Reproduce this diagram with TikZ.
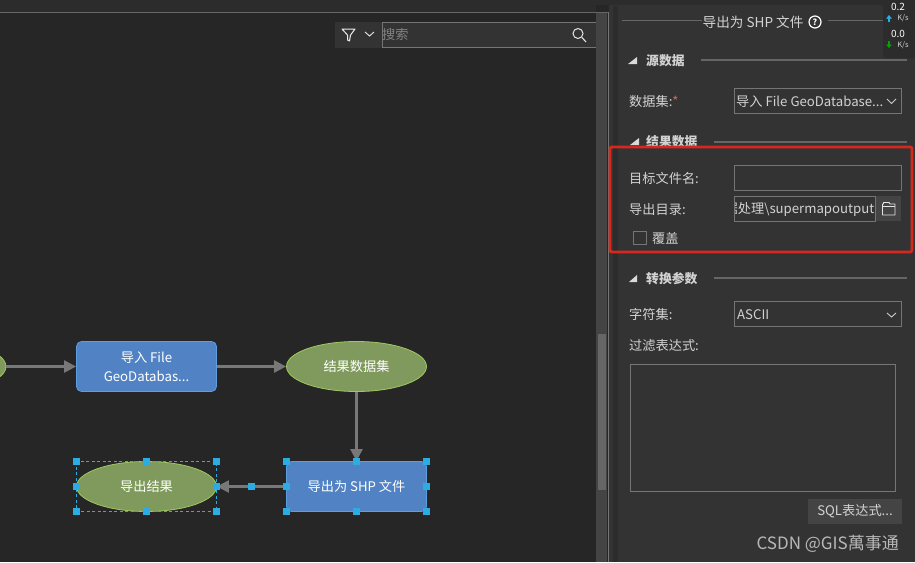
\documentclass[tikz,border=0pt]{standalone}
\usepackage{fontspec}
\setmainfont{Noto Sans CJK SC}
\usetikzlibrary{arrows.meta,shapes.geometric,calc}
\definecolor{canvas}{HTML}{262626}
\definecolor{panel}{HTML}{333333}
\definecolor{strip}{HTML}{2C2C2C}
\definecolor{field}{HTML}{757575}
\definecolor{txt}{HTML}{D2D2D2}
\definecolor{rule}{HTML}{666666}
\definecolor{bluebox}{HTML}{5082C4}
\definecolor{blueedge}{HTML}{5B9FE0}
\definecolor{greenell}{HTML}{7F9A5C}
\definecolor{greenedge}{HTML}{A0C860}
\definecolor{conn}{HTML}{787878}
\definecolor{handle}{HTML}{2BACE2}
\definecolor{redbox}{HTML}{D8281E}
\definecolor{btn}{HTML}{444444}
\newcommand{\lowered}[1]{\raisebox{-0.9pt}{#1}}
\tikzset{
  every node/.style={font=\fontsize{13.2}{15}\selectfont,text=txt,inner sep=0pt},
  taskbox/.style={draw=blueedge,fill=bluebox,rounded corners=5pt,minimum width=140pt,minimum height=50pt,line width=.8pt,text=white,align=center},
  dataell/.style={ellipse,draw=greenedge,fill=greenell,minimum width=140pt,minimum height=50pt,line width=.8pt,text=white},
  flow/.style={draw=conn,line width=2.3pt,-{Triangle[length=12pt,width=12pt,fill=conn]}},
  grip/.style={fill=handle,minimum size=7pt,draw=none},
  fieldbox/.style={draw=field,line width=.8pt,minimum height=25pt,anchor=west},
  plabel/.style={anchor=west,text=txt,yshift=-0.9pt},
  seclabel/.style={anchor=west,text=txt,yshift=-0.6pt,font=\fontsize{12.8}{15}\selectfont\bfseries},
  secrule/.style={draw=rule,line width=1.6pt},
  tri/.style={fill=white!85!black,draw=none},
}
\begin{document}
\begin{tikzpicture}[x=1pt,y=-1pt]
\useasboundingbox (0,0) rectangle (915,562);
\clip (0,0) rectangle (915,562);
% backgrounds
\fill[canvas] (0,0) rectangle (915,562);
\fill[strip] (0,0) rectangle (596,12);
\fill[panel] (609,0) rectangle (915,562);
\fill[strip] (613,6) rectangle (618,562);
\fill[strip] (0,0) rectangle (915,5);
\draw[rule,line width=1pt] (0,12) -- (608,12);
\fill[btn] (596,13) rectangle (607,562);
\fill[rule] (598,334) rectangle (606,490);
\draw[field,line width=1pt] (608,12) -- (608,562);
% search bar
\fill[panel] (335,22) rectangle (596,48);
\draw[field,line width=.8pt] (596,22.5) -- (382.5,22.5) -- (382.5,47.5) -- (596,47.5);
\node[plabel,text=field!90!white] (searchtxt) at (382,34) {搜索};
\draw[white!92!black,line width=1pt,line join=round] (342,29) -- (355,29) -- (350.5,35) -- (349.5,41) -- (347.5,40) -- (347.5,35) -- cycle;
\draw[white!85!black,line width=1pt] (365,32) -- (369.5,36) -- (374,32);
\draw[white!90!black,line width=1pt] (578,33.5) circle (5pt);
\draw[white!90!black,line width=1.1pt] (582,37.5) -- (586,42);
% diagram
\node[dataell] (srcell) at (-64,366.5) {};
\node[taskbox] (imp) at (146.5,366.5) {\lowered{导入 File}\\[4pt]\lowered{GeoDatabas...}};
\node[dataell] (res) at (356.5,366.5) {\lowered{结果数据集}};
\node[taskbox] (exp) at (356.5,486.5) {\lowered{导出为 SHP 文件}};
\node[dataell] (out) at (146.5,486.5) {\lowered{导出结果}};
\draw[flow] (srcell) -- (imp);
\draw[flow] (imp) -- (res);
\draw[flow] (res) -- (exp);
\draw[flow] (exp) -- (out);
% selection
\draw[handle,line width=.8pt,dash pattern=on 3pt off 2.5pt] (76.5,461) rectangle (216.5,511.5);
\foreach \gx/\gy [count=\gi] in {76.5/461,146.5/461,216.5/461,76.5/486.5,216.5/486.5,76.5/511,146.5/511,216.5/511,
  286.5/461,356.5/461,426.5/461,286.5/486.5,426.5/486.5,286.5/511,356.5/511,426.5/511,251.5/486.5}
  \node[grip] (grip\gi) at (\gx,\gy) {};
% panel title
\coordinate (titleL) at (622,20.5);
\coordinate (titleR) at (888,20.5);
\node[yshift=-0.6pt,font=\fontsize{13.6}{15}\selectfont] (title) at (753,22) {导出为 SHP 文件};
\draw[secrule] (titleL) -- (titleL -| title.west);
\node[circle,draw=white,line width=1.2pt,minimum size=12pt,text=white,font=\fontsize{8.5}{10}\selectfont\bfseries] (help) at (815,22) {?};
\draw[secrule] (828,20.5) -- (titleR);
% source data section
\fill[tri] (628,64) -- (637,64) -- (637,57) -- cycle;
\node[seclabel] (sec1) at (646,60) {源数据};
\draw[secrule] (701,60) -- (906.5,60);
\node[plabel] (dslab) at (629,101) {数据集:\textcolor{redbox!75!white}{*}};
\node[fieldbox,minimum width=167pt] (dsbox) at (734,101) {};
\node[plabel] (dstxt) at (736,101) {导入 File GeoDatabase...};
\draw[white!80!black,line width=.9pt] (887,99) -- (891.5,103.5) -- (896,99);
% result section
\fill[tri] (630,145) -- (639,145) -- (639,138) -- cycle;
\node[seclabel] (sec2) at (646,141.5) {结果数据};
\draw[secrule] (714,142) -- (906.5,142);
\fill[panel] (625,148.5) rectangle (712,150);
\draw[redbox,line width=2.8pt,rounded corners=2pt] (610,147) rectangle (912,252);
\node[plabel] (tflab) at (629,178) {目标文件名:};
\node[fieldbox,minimum width=167pt] (tfbox) at (734,178) {};
\node[plabel] (oflab) at (629,209) {导出目录:};
\fill[btn] (876,196) rectangle (901,221);
\node[fieldbox,minimum width=141pt] (ofbox) at (734,209) {};
\begin{scope}
\clip (735,197) rectangle (875,221);
\node[anchor=east,yshift=-0.9pt] (oftxt) at (874.5,209) {据处理\textbackslash supermapoutput};
\end{scope}
\draw[white!90!black,line width=.9pt,line join=round] (882.5,215) -- (882.5,204) -- (883.5,204) -- (883.5,202.5) -- (889,202.5) -- (890,204) -- (895,204) -- (895,215) -- cycle;
\draw[white!90!black,line width=.8pt] (882.5,206.5) -- (895,206.5);
\draw[field,line width=.8pt] (633.5,231.5) rectangle (646.5,244.5);
\node[plabel] (cover) at (652,238) {覆盖};
% conversion section
\fill[tri] (629,282) -- (637,282) -- (637,275) -- cycle;
\node[seclabel] (sec3) at (646,278) {转换参数};
\draw[secrule] (714,278) -- (906.5,278);
\node[plabel] (cslab) at (629,314) {字符集:};
\node[fieldbox,minimum width=167pt] (csbox) at (734,314) {};
\node[plabel] (cstxt) at (737,314) {ASCII};
\draw[white!80!black,line width=.9pt] (887,313) -- (891.5,317) -- (896,313);
\node[plabel] (fllab) at (629,345) {过滤表达式:};
\draw[field,line width=.8pt] (630.5,364.5) rectangle (895.5,491.5);
\node[fill=btn,minimum width=94pt,minimum height=25.5pt] (sql) at (855,511.5) {\lowered{SQL表达式...}};
\node[anchor=east,yshift=-0.9pt,text=white!72!black,font=\fontsize{17}{20}\selectfont] (wm) at (899,543) {CSDN @GIS萬事通};
% network widget
\fill[strip,rounded corners=3pt] (883,-4) rectangle (920,58);
\node[text=white,font=\fontsize{10}{12}\selectfont] (up) at (898,7) {0.2};
\node[text=txt,font=\fontsize{7.5}{9}\selectfont] (upu) at (903,18) {K/s};
\node[text=white,font=\fontsize{10}{12}\selectfont] (dn) at (898,34) {0.0};
\node[text=txt,font=\fontsize{7.5}{9}\selectfont] (dnu) at (903,45) {K/s};
\draw[-{Triangle[length=3.5pt,width=5.5pt]},color=handle,line width=1.3pt] (889,22) -- (889,15);
\draw[-{Triangle[length=3.5pt,width=5.5pt]},color=green!65!black,line width=1.3pt] (889,41) -- (889,48);
\end{tikzpicture}
\end{document}
